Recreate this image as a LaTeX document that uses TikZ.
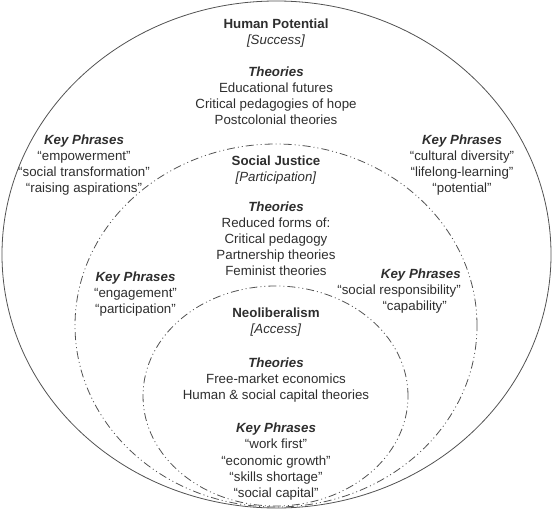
\documentclass[tikz,border=0pt]{standalone}
\usepackage{fontspec}
\setmainfont{Liberation Sans}
\begin{document}
\begin{tikzpicture}[x=1pt,y=-1pt,
  txt/.style={font=\fontsize{13.3}{16.1}\selectfont, text=black!82, align=center, inner sep=0pt, anchor=north},
  ring/.style={draw=black!68, line width=0.8pt},
  dashring/.style={ring, dash pattern=on 8pt off 3pt on 1pt off 3pt on 1pt off 3pt}]
\useasboundingbox (0,0) rectangle (553,510);
\draw[ring] (276.5,254.5) ellipse [x radius=274.5pt, y radius=253.5pt];
\draw[dashring] (276,325.5) ellipse [x radius=201pt, y radius=181.5pt];
\draw[dashring] (275.5,396) ellipse [x radius=132.5pt, y radius=110pt];

\node[txt] (hp) at (276,18.3) {\textbf{Human Potential}\\\textit{[Success]}};
\node[txt] (hpth) at (276,66.7) {\textbf{\textit{Theories}}\\Educational futures\\Critical pedagogies of hope\\Postcolonial theories};
\node[txt] (kpl) at (84,134.3) {\textbf{\textit{Key Phrases}}\\“empowerment”\\“social transformation”\\“raising aspirations”};
\node[txt] (kpr) at (462,134.3) {\textbf{\textit{Key Phrases}}\\“cultural diversity”\\“lifelong-learning”\\“potential”};
\node[txt] (sj) at (276,155.7) {\textbf{Social Justice}\\\textit{[Participation]}};
\node[txt] (sjth) at (276,201.7) {\textbf{\textit{Theories}}\\Reduced forms of:\\Critical pedagogy\\Partnership theories\\Feminist theories};
\node[txt] (kpml) at (135.5,271.7) {\textbf{\textit{Key Phrases}}\\“engagement”\\“participation”};
\node[txt, align=right, anchor=north east] (kpmr) at (461,268.3) {\textbf{\textit{Key Phrases}}\\“social responsibility”\\“capability”\hspace*{14pt}};
\node[txt] (nl) at (276,307.7) {\textbf{Neoliberalism}\\\textit{[Access]}};
\node[txt] (nlth) at (276,357.7) {\textbf{\textit{Theories}}\\Free-market economics\\Human \& social capital theories};
\node[txt] (nlkp) at (276,423) {\textbf{\textit{Key Phrases}}\\“work first”\\“economic growth”\\“skills shortage”\\“social capital”};
\end{tikzpicture}
\end{document}
